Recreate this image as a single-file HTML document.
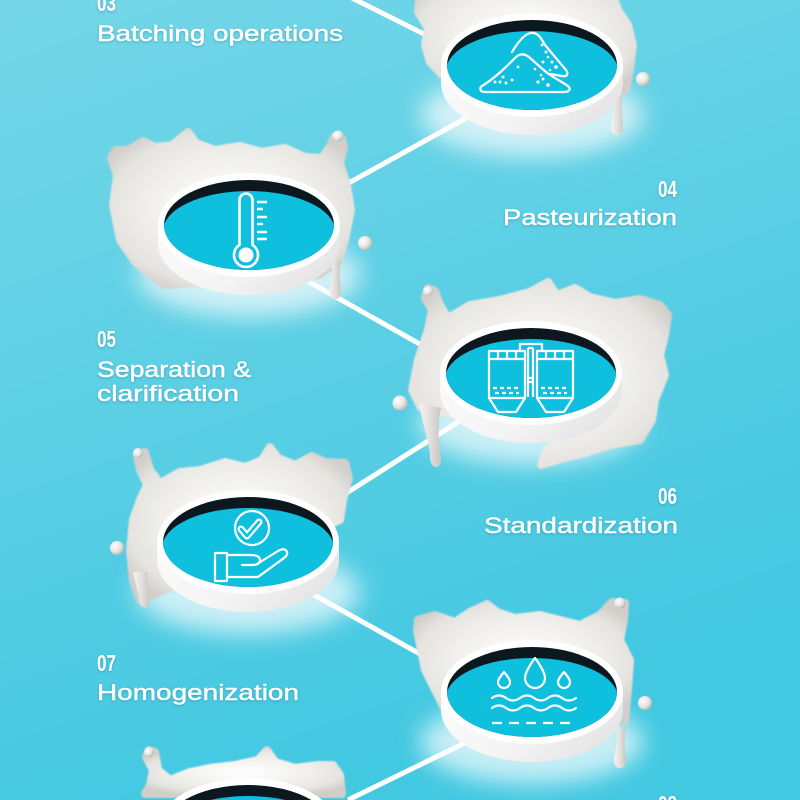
<!DOCTYPE html>
<html><head><meta charset="utf-8"><style>
html,body{margin:0;padding:0;width:800px;height:800px;overflow:hidden;background:#5ccfe5}
svg{display:block;overflow:hidden}
</style></head><body>
<svg width="800" height="800" viewBox="0 0 800 800" xmlns="http://www.w3.org/2000/svg">
<defs>
<linearGradient id="bg" x1="0" y1="0" x2="0.35" y2="1">
<stop offset="0" stop-color="#75d6e8"/><stop offset="1" stop-color="#42c8e1"/></linearGradient>
<radialGradient id="milk" cx="0.5" cy="0.5" r="0.6">
<stop offset="0" stop-color="#ffffff"/><stop offset="0.55" stop-color="#f2f0ed"/><stop offset="0.85" stop-color="#e5e3df"/><stop offset="1" stop-color="#d2cfcb"/></radialGradient>
<radialGradient id="drop" cx="0.35" cy="0.35" r="0.7">
<stop offset="0" stop-color="#ffffff"/><stop offset="0.6" stop-color="#e6e4e1"/><stop offset="1" stop-color="#b8b5b1"/></radialGradient>
<linearGradient id="drip" x1="0" y1="0" x2="1" y2="0">
<stop offset="0" stop-color="#f4f3f1"/><stop offset="0.5" stop-color="#e2e0dc"/><stop offset="1" stop-color="#c9c6c2"/></linearGradient>
<linearGradient id="side" x1="0" y1="0" x2="1" y2="0.4">
<stop offset="0" stop-color="#fbfbfb"/><stop offset="0.6" stop-color="#f4f4f4"/><stop offset="1" stop-color="#e6e6e6"/></linearGradient>
<filter id="glow" x="-60%" y="-80%" width="220%" height="260%"><feGaussianBlur stdDeviation="12"/></filter>
<filter id="soft" x="-10%" y="-10%" width="120%" height="120%"><feGaussianBlur stdDeviation="0.9"/></filter>
<filter id="ts" x="-10%" y="-40%" width="120%" height="180%"><feDropShadow dx="0" dy="1" stdDeviation="1.2" flood-color="#0a5a6a" flood-opacity="0.35"/></filter>
<clipPath id="hole"><ellipse cx="0" cy="0" rx="85" ry="45"/></clipPath>
</defs>

<rect width="800" height="800" fill="url(#bg)"/>

<polyline points="330,-13 526,85 240,243 505,392 246,557 526,713 348,800" fill="none" stroke="#fff" stroke-width="5" stroke-linejoin="round"/>

<!-- Node 1 -->
<g transform="translate(532,65)">
<ellipse cx="0" cy="50" rx="112" ry="42" fill="#fff" opacity="0.7" filter="url(#glow)"/>
<g filter="url(#soft)" fill="url(#milk)" stroke="url(#milk)" stroke-width="8" stroke-linejoin="round">
<path d="M-90,10 L-102,-3 L-107,-20 L-104,-37 L-114,-53 L-112,-75 L-60,-90 L70,-90 L81,-70 L86,-55 L96,-40 L101,-20 L98,5 L94,25 L80,30 Z"/>
</g>
<path d="M81,20 C84,40 79,52 79,62 C79,72 91,73 91,63 C91,52 88,40 92,20 Z" fill="url(#drip)"/>
<circle cx="111" cy="14" r="7" fill="url(#drop)"/>
<path d="M-91,0 L-91,18 A91,52 0 0 0 91,18 L91,0 Z" fill="url(#side)"/>
<ellipse cx="0" cy="0" rx="91" ry="52" fill="#fff"/>
<ellipse cx="0" cy="0" rx="85" ry="45" fill="#0c1820"/>
<ellipse cx="0" cy="6" rx="86" ry="40" fill="#0fc0de" clip-path="url(#hole)"/>
<g fill="none" stroke="#fff" stroke-width="2.2" stroke-linecap="round" stroke-linejoin="round">
<path d="M-20,-13 C-14,-23 -6,-33 1,-32 C6,-32 9,-27 13,-20 L34,5 C37,9 35,12 30,11 L18,9"/>
<path d="M-50,21 C-37,13 -27,3 -18,-6 C-13,-12 -7,-12 -2,-7 L14,7 C23,14 33,18 37,22 C39,25 36,27 32,27 L-47,27 C-52,27 -53,23 -50,21 Z"/>
</g>
<g fill="#fff">
<circle cx="-37" cy="17" r="1.5"/><circle cx="-32" cy="17" r="1.5"/><circle cx="-29" cy="12" r="1.5"/><circle cx="-26" cy="18" r="1.5"/><circle cx="-20" cy="15" r="1.5"/><circle cx="-14" cy="2" r="1.4"/><circle cx="6" cy="17" r="1.6"/><circle cx="11" cy="14" r="1.5"/><circle cx="16" cy="20" r="1.8"/><circle cx="9" cy="10" r="1.3"/><circle cx="3" cy="4" r="1.3"/>
<circle cx="10" cy="-20" r="1.4"/><circle cx="14" cy="-13" r="1.5"/><circle cx="16" cy="-8" r="1.3"/><circle cx="11" cy="-3" r="1.5"/><circle cx="20" cy="-3" r="1.5"/><circle cx="24" cy="2" r="1.8"/><circle cx="18" cy="5" r="1.3"/>
</g>
</g>

<!-- Node 2 -->
<g transform="translate(249,225)">
<ellipse cx="0" cy="50" rx="112" ry="42" fill="#fff" opacity="0.7" filter="url(#glow)"/>
<g filter="url(#soft)" fill="url(#milk)" stroke="url(#milk)" stroke-width="8" stroke-linejoin="round">
<path d="M-84,60 L-99,50 L-114,37 L-129,15 L-136,-20 L-132,-50 L-138,-67 L-133,-75 L-121,-75 L-106,-84 L-94,-78 L-77,-80 L-61,-93 L-53,-82 L-34,-75 L-9,-79 L13,-73 L36,-77 L56,-68 L73,-67 L81,-79 L85,-88 L93,-86 L95,-78 L91,-62 L98,-40 L102,-15 L96,15 L89,37 L70,50 Z"/>
</g>
<path d="M82,35 C85,50 80,62 80,66 C80,76 92,77 92,67 C92,60 89,50 92,35 Z" fill="url(#drip)"/>
<circle cx="89" cy="-89" r="5.5" fill="url(#drop)"/>
<circle cx="116" cy="18" r="7" fill="url(#drop)"/>
<path d="M-91,0 L-91,18 A91,52 0 0 0 91,18 L91,0 Z" fill="url(#side)"/>
<ellipse cx="0" cy="0" rx="91" ry="52" fill="#fff"/>
<ellipse cx="0" cy="0" rx="85" ry="45" fill="#0c1820"/>
<ellipse cx="0" cy="6" rx="86" ry="40" fill="#0fc0de" clip-path="url(#hole)"/>
<g fill="none" stroke="#fff" stroke-width="2.6" stroke-linecap="butt" stroke-linejoin="round">
<path d="M-9.5,19.9 L-9.5,-25 A6.5,6.5 0 0 1 3.5,-25 L3.5,19.9 A12,12 0 1 1 -9.5,19.9 Z"/>
<path d="M8,-23 L18,-23 M8,-16 L14,-16 M8,-8 L18,-8 M8,-1 L14,-1 M8,7 L18,7 M8,14 L18,14"/>
</g>
<circle cx="-3" cy="30" r="7.5" fill="#fff"/>
</g>

<!-- Node 3 -->
<g transform="translate(531,373)">
<ellipse cx="0" cy="50" rx="112" ry="42" fill="#fff" opacity="0.7" filter="url(#glow)"/>
<g filter="url(#soft)" fill="url(#milk)" stroke="url(#milk)" stroke-width="8" stroke-linejoin="round">
<path d="M-85,40 L-110,35 L-119,17 L-113,-13 L-103,-43 L-99,-63 L-106,-75 L-103,-85 L-96,-82 L-91,-68 L-83,-55 L-61,-68 L-31,-73 L-1,-81 L17,-91 L26,-78 L44,-85 L59,-76 L84,-70 L109,-74 L129,-68 L137,-58 L134,-38 L129,-18 L134,2 L124,27 L121,47 L109,67 L79,72 L54,80 L29,86 L10,92 L14,80 L30,60 Z"/>
</g>
<path d="M-112,30 C-108,55 -101,70 -101,84 C-101,97 -89,97 -90,86 C-91,72 -95,55 -90,35 Z" fill="url(#drip)"/>
<circle cx="-103" cy="-82" r="5" fill="url(#drop)"/>
<circle cx="-131" cy="30" r="7.5" fill="url(#drop)"/>
<path d="M-91,0 L-91,18 A91,52 0 0 0 91,18 L91,0 Z" fill="url(#side)"/>
<ellipse cx="0" cy="0" rx="91" ry="52" fill="#fff"/>
<ellipse cx="0" cy="0" rx="85" ry="45" fill="#0c1820"/>
<ellipse cx="0" cy="6" rx="86" ry="40" fill="#0fc0de" clip-path="url(#hole)"/>
<g fill="none" stroke="#fff" stroke-width="2.2" stroke-linejoin="round">
<path d="M-42,-22 L-6,-22 L-6,25 L-15,39 L-33,39 L-42,25 Z M-42,25 L-6,25 M-42,-14 L-6,-14 M-33,-22 L-33,-14 M-24,-22 L-24,-14 M-15,-22 L-15,-14"/>
<path d="M6,-22 L42,-22 L42,25 L33,39 L15,39 L6,25 Z M6,25 L42,25 M6,-14 L42,-14 M15,-22 L15,-14 M24,-22 L24,-14 M33,-22 L33,-14"/>
<path d="M-11,-22 L-11,-29 L11,-29 L11,-22 M-3,-25 L-3,24 M2,-25 L2,24 M-3,5 L2,5 M-3,9 L2,9 M-3,-25 L2,-25"/>
<path d="M-38,15 L-10,15 M-36,20 L-12,20 M10,15 L38,15 M12,20 L36,20" stroke-dasharray="4 3"/>
</g>
</g>

<!-- Node 4 -->
<g transform="translate(248,542)">
<ellipse cx="0" cy="50" rx="112" ry="42" fill="#fff" opacity="0.7" filter="url(#glow)"/>
<g filter="url(#soft)" fill="url(#milk)" stroke="url(#milk)" stroke-width="8" stroke-linejoin="round">
<path d="M-83,48 L-108,58 L-115,38 L-118,8 L-115,-22 L-108,-42 L-101,-57 L-108,-72 L-111,-87 L-103,-90 L-98,-72 L-88,-59 L-68,-70 L-48,-72 L-23,-80 L-3,-75 L14,-82 L22,-95 L30,-84 L47,-77 L64,-86 L77,-80 L97,-79 L101,-64 L95,-42 L92,-22 Z"/>
</g>
<path d="M-115,30 C-112,45 -109,52 -109,58 C-109,68 -97,68 -98,58 C-99,50 -102,40 -100,30 Z" fill="url(#drip)"/>
<circle cx="-110" cy="-89" r="5" fill="url(#drop)"/>
<circle cx="-131" cy="6" r="7" fill="url(#drop)"/>
<path d="M-91,0 L-91,18 A91,52 0 0 0 91,18 L91,0 Z" fill="url(#side)"/>
<ellipse cx="0" cy="0" rx="91" ry="52" fill="#fff"/>
<ellipse cx="0" cy="0" rx="85" ry="45" fill="#0c1820"/>
<ellipse cx="0" cy="6" rx="86" ry="40" fill="#0fc0de" clip-path="url(#hole)"/>
<g fill="none" stroke="#fff" stroke-width="2.2" stroke-linejoin="round" stroke-linecap="round">
<circle cx="4" cy="-14" r="17"/>
<rect x="-33" y="11" width="12" height="28"/>
<path d="M-21,13 L2,13 Q12,13 12,18 Q12,23 4,23 L-6,23"/>
<path d="M9,22 L30,9 Q37,5 39,10 Q40,13 36,16 L10,35 L-21,35"/>
</g>
<path d="M-7,-13 L-1,-6 L11,-20" fill="none" stroke="#fff" stroke-width="7" stroke-linejoin="round" stroke-linecap="round"/>
<path d="M-7,-13 L-1,-6 L11,-20" fill="none" stroke="#0fc0de" stroke-width="2.6" stroke-linejoin="round" stroke-linecap="round"/>
</g>

<!-- Node 5 -->
<g transform="translate(532,692)">
<ellipse cx="0" cy="50" rx="112" ry="42" fill="#fff" opacity="0.7" filter="url(#glow)"/>
<g filter="url(#soft)" fill="url(#milk)" stroke="url(#milk)" stroke-width="8" stroke-linejoin="round">
<path d="M-82,28 L-92,8 L-107,-22 L-115,-62 L-114,-72 L-97,-77 L-77,-70 L-62,-80 L-45,-88 L-35,-80 L-17,-74 L8,-77 L28,-72 L48,-67 L68,-77 L80,-90 L93,-89 L92,-72 L88,-52 L98,-32 L96,-2 L93,28 Z"/>
</g>
<path d="M84,35 C87,50 82,62 82,68 C82,79 94,79 94,68 C94,62 91,50 94,35 Z" fill="url(#drip)"/>
<circle cx="88" cy="-89" r="5.5" fill="url(#drop)"/>
<circle cx="113" cy="11" r="7" fill="url(#drop)"/>
<path d="M-91,0 L-91,18 A91,52 0 0 0 91,18 L91,0 Z" fill="url(#side)"/>
<ellipse cx="0" cy="0" rx="91" ry="52" fill="#fff"/>
<ellipse cx="0" cy="0" rx="85" ry="45" fill="#0c1820"/>
<ellipse cx="0" cy="6" rx="86" ry="40" fill="#0fc0de" clip-path="url(#hole)"/>
<g fill="none" stroke="#fff" stroke-width="2.2" stroke-linejoin="round" stroke-linecap="round">
<path d="M3,-34 C3,-34 -7,-21 -7,-14 A10,10 0 0 0 13,-14 C13,-21 3,-34 3,-34 Z"/>
<path d="M-28,-20 C-28,-20 -34,-13 -34,-10 A6,6 0 0 0 -22,-10 C-22,-13 -28,-20 -28,-20 Z"/>
<path d="M32,-20 C32,-20 26,-13 26,-10 A6,6 0 0 0 38,-10 C38,-13 32,-20 32,-20 Z"/>
<path d="M-40,6 q7,-5 14,0 t14,0 t14,0 t14,0 t14,0 t14,0"/>
<path d="M-40,16 q7,-5 14,0 t14,0 t14,0 t14,0 t14,0 t14,0"/>
<path d="M-40,31 L45,31" stroke-dasharray="10 7" stroke-linecap="butt"/>
</g>
</g>

<!-- Node 6 (only visible top portion, trimmed at y=800) -->
<g transform="translate(248,830)">
<g filter="url(#soft)" fill="url(#milk)" stroke="url(#milk)" stroke-width="8" stroke-linejoin="round">
<path d="M-103,-36 L-98,-45 L-95,-60 L-102,-73 L-99,-80 L-93,-78 L-90,-60 L-78,-50 L-58,-58 L-38,-62 L-13,-65 L10,-70 L19,-80 L27,-68 L47,-62 L70,-65 L85,-65 L92,-55 L94,-36 Z"/>
</g>
<circle cx="-99" cy="-78" r="5" fill="url(#drop)"/>
<path d="M-74.3,-30 A91,52 0 0 1 74.3,-30 Z" fill="#fff"/>
<path d="M-63.4,-30 A85,45 0 0 1 63.4,-30 Z" fill="#0c1820"/>
<path d="M-37.5,-30 A86,40 0 0 1 37.5,-30 Z" fill="#0fc0de"/>
</g>

<!-- Text -->
<g fill="#fff" filter="url(#ts)">
<g font-family="'Liberation Sans Narrow','Liberation Sans',sans-serif" font-weight="bold" font-size="23">
<text x="97" y="11" textLength="19" lengthAdjust="spacingAndGlyphs">03</text>
<text x="658" y="197" textLength="19" lengthAdjust="spacingAndGlyphs">04</text>
<text x="97" y="347" textLength="19" lengthAdjust="spacingAndGlyphs">05</text>
<text x="658" y="504" textLength="19" lengthAdjust="spacingAndGlyphs">06</text>
<text x="97" y="671" textLength="19" lengthAdjust="spacingAndGlyphs">07</text>
<text x="658" y="812" textLength="19" lengthAdjust="spacingAndGlyphs">08</text>
</g>
<g font-family="'Liberation Sans',sans-serif" font-size="22" stroke="#fff" stroke-width="0.4">
<text x="97" y="41" textLength="246" lengthAdjust="spacingAndGlyphs">Batching operations</text>
<text x="503" y="225" textLength="174" lengthAdjust="spacingAndGlyphs">Pasteurization</text>
<text x="97" y="377" textLength="154" lengthAdjust="spacingAndGlyphs">Separation &amp;</text>
<text x="97" y="401" textLength="142" lengthAdjust="spacingAndGlyphs">clarification</text>
<text x="484" y="533" textLength="194" lengthAdjust="spacingAndGlyphs">Standardization</text>
<text x="97" y="700" textLength="202" lengthAdjust="spacingAndGlyphs">Homogenization</text>
</g>
</g>
</svg>
</body></html>
